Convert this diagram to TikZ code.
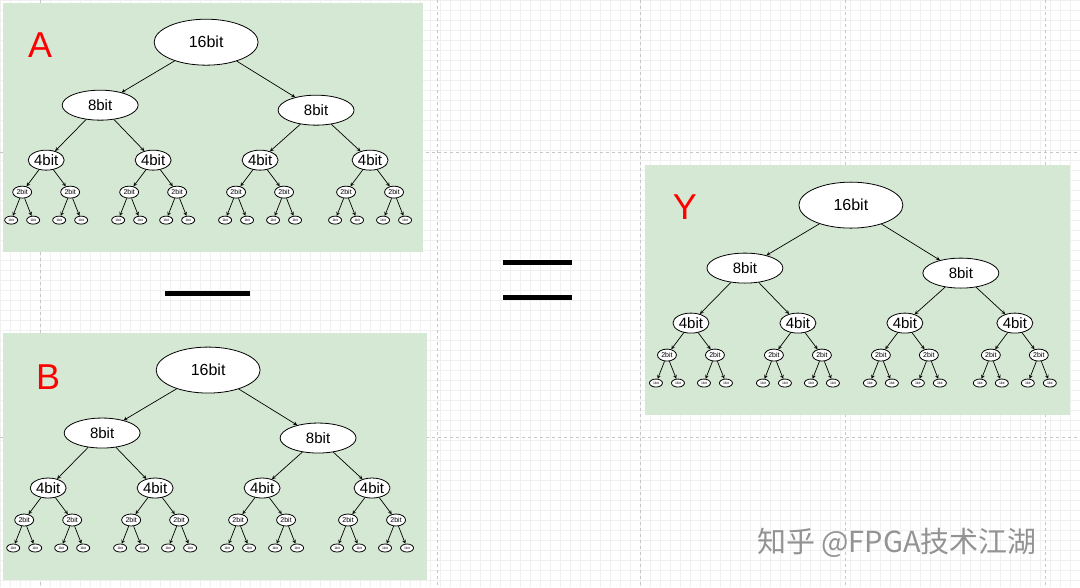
\documentclass[tikz,border=0pt]{standalone}
\usepackage{fontspec}
\setmainfont{Liberation Sans}
\newfontfamily\cjk{Noto Sans CJK SC}
\usetikzlibrary{shapes.geometric}
\definecolor{panelgreen}{HTML}{D5E8D4}

\tikzset{
  bit/.style={draw, ellipse, fill=white, inner sep=0pt, line width=0.8pt},
  n16/.style={bit, minimum width=104pt, minimum height=46pt, font=\fontsize{16}{16}\selectfont},
  n8/.style={bit, minimum width=76pt, minimum height=30pt, font=\fontsize{15}{15}\selectfont},
  n4/.style={bit, minimum width=36pt, minimum height=20pt, font=\fontsize{15}{15}\selectfont},
  n2/.style={bit, minimum width=19pt, minimum height=12pt, font=\fontsize{7}{7}\selectfont},
  n1/.style={bit, minimum width=13pt, minimum height=8pt, font=\fontsize{3.5}{4}\selectfont},
  edge/.style={->, >=stealth, line width=0.7pt},
  panel/.style={fill=panelgreen, draw=none},
  tag/.style={red, font=\fontsize{36}{36}\selectfont}
}

\newcommand\bintree[3]{%
  \begin{scope}[shift={(#2,#3)}]
    \node[n16] (#1) at (0,0) {16bit};
    \node[n8] (#1-0) at (-106,63) {8bit};
    \node[n8] (#1-1) at (110,68) {8bit};
    \draw[edge] (#1) -- (#1-0);
    \draw[edge] (#1) -- (#1-1);
    \foreach \a/\b/\x in {0/0/-160,0/1/-53,1/0/54,1/1/164}{
      \node[n4] (#1-\a-\b) at (\x,118) {4bit};
      \draw[edge] (#1-\a) -- (#1-\a-\b);
      \foreach \c/\dx in {0/-24,1/24}{
        \node[n2] (#1-\a-\b-\c) at (\x+\dx,150) {2bit};
        \draw[edge] (#1-\a-\b) -- (#1-\a-\b-\c);
        \foreach \d/\ex in {0/-11,1/11}{
          \node[n1] (#1-\a-\b-\c-\d) at (\x+\dx+\ex,178) {1bit};
          \draw[edge] (#1-\a-\b-\c) -- (#1-\a-\b-\c-\d);
        }
      }
    }
  \end{scope}
}

\begin{document}
\begin{tikzpicture}[x=1pt, y=-1pt]
  % canvas
  \fill[white] (0,0) rectangle (1080,587);
  \draw[gray!12, step=10pt] (0,0) grid (1080,587);
  \foreach \gx in {40,437,640,845,1045}
    \draw[gray!45, dashed] (\gx,0) -- (\gx,587);
  \foreach \gy in {152,437}
    \draw[gray!45, dashed] (0,\gy) -- (1080,\gy);

  % panels
  \fill[panel] (3,3) rectangle (423,252);
  \fill[panel] (3,333) rectangle (427,580);
  \fill[panel] (645,165) rectangle (1070,415);

  \node[tag] (tA) at (40,45) {A};
  \node[tag] (tB) at (48,377) {B};
  \node[tag] (tY) at (685,207) {Y};

  \bintree{A}{206}{42}
  \bintree{B}{208}{370}
  \bintree{Y}{851}{205}

  % minus and equals
  \fill (165,291) rectangle (250,296);
  \fill (503,260) rectangle (572,265);
  \fill (503,295) rectangle (572,300);

  \node[gray!85, font=\cjk\fontsize{29}{29}\selectfont] (wm) at (897,543) {知乎 @FPGA技术江湖};
\end{tikzpicture}
\end{document}
